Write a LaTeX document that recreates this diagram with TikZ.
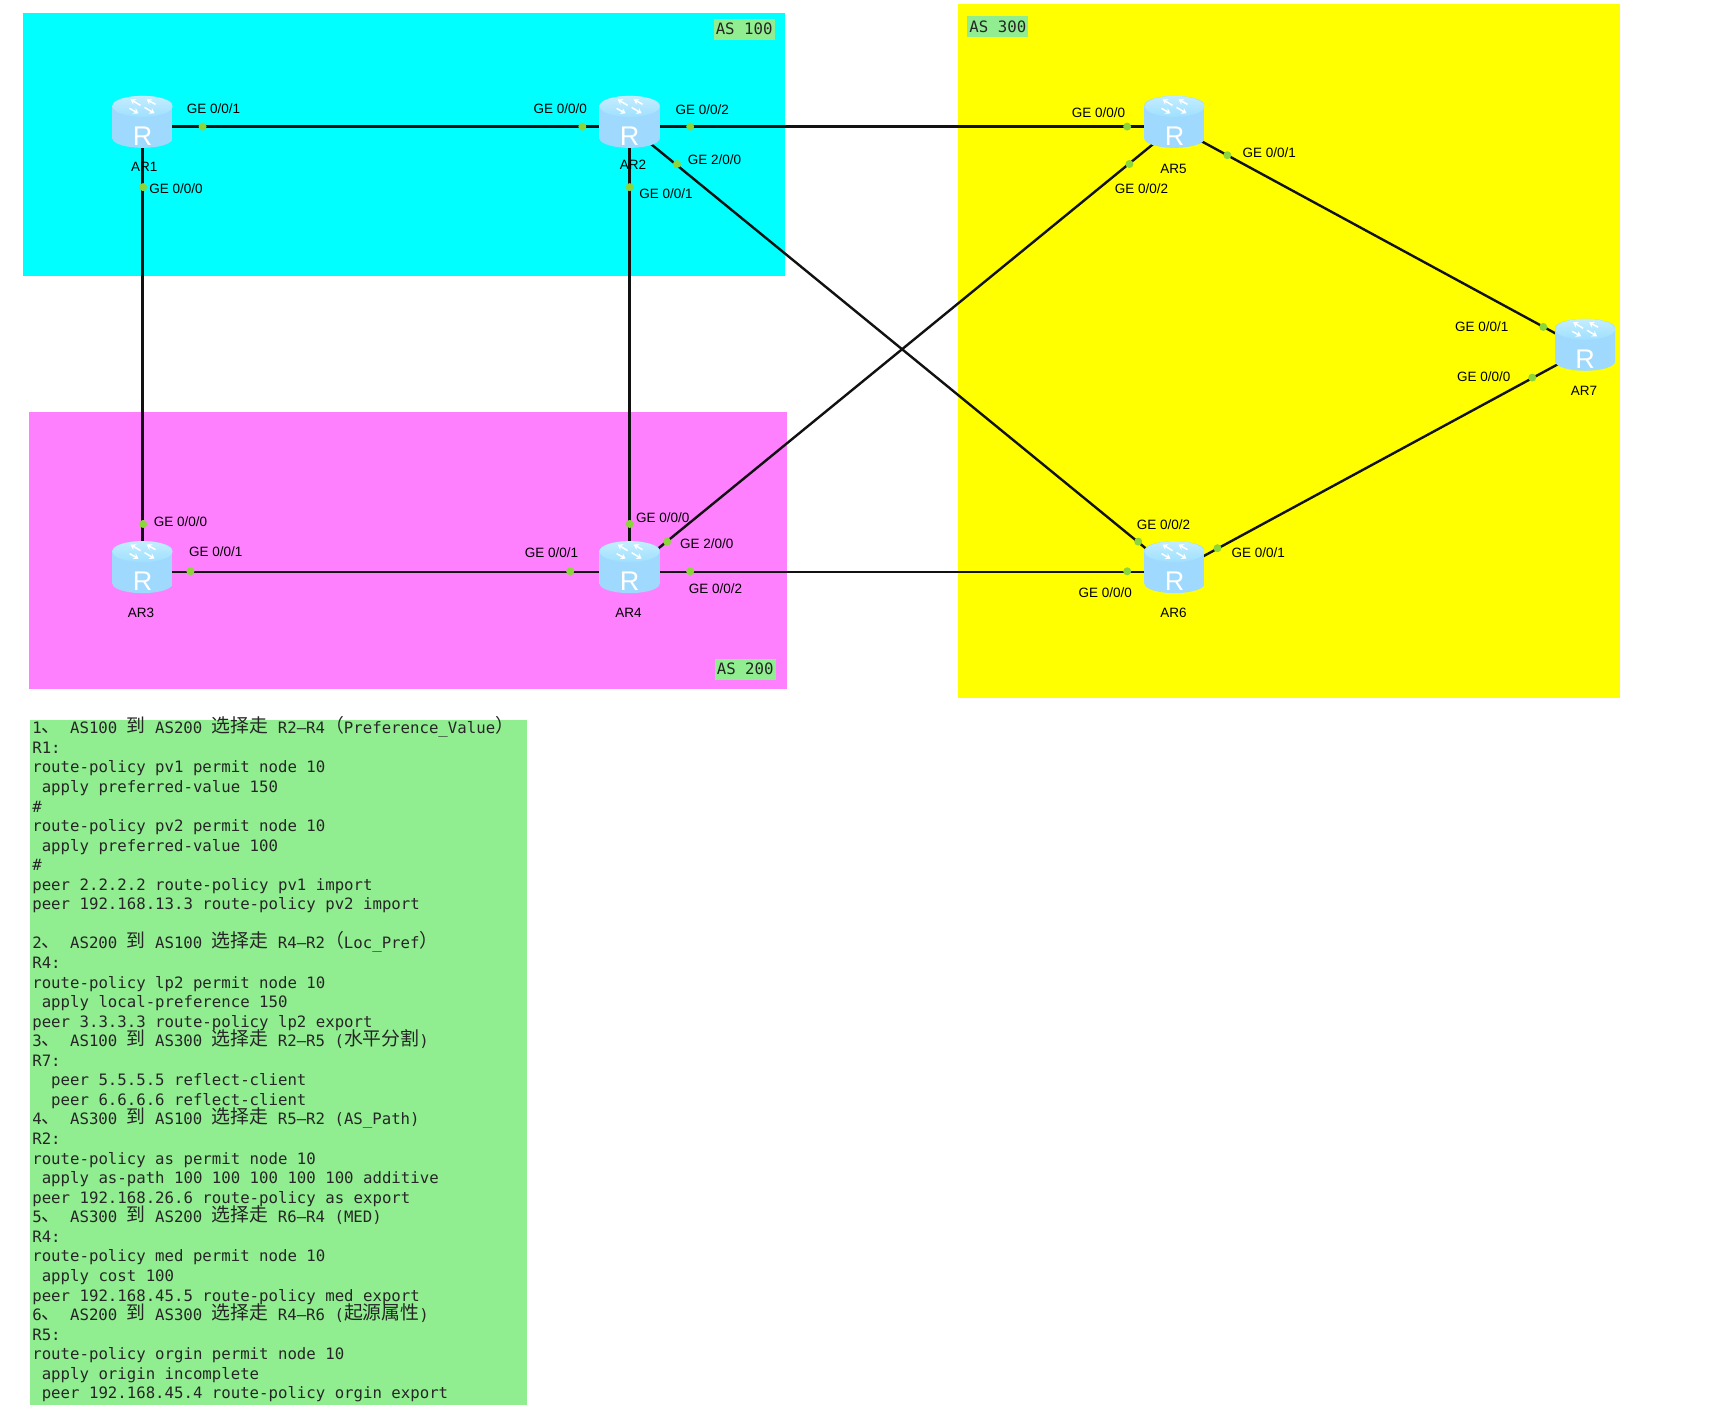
\documentclass[tikz,border=0pt]{standalone}
\usepackage{fontspec}
\setmainfont{Liberation Sans}
\newfontfamily\codefont{DejaVu Sans Mono}
\newfontfamily\cjk{Noto Sans CJK SC}
\usetikzlibrary{shapes.geometric,backgrounds,arrows.meta}
\definecolor{zonecyan}{HTML}{00FFFF}
\definecolor{zonepink}{HTML}{FF80FF}
\definecolor{zoneyellow}{HTML}{FFFF00}
\definecolor{notegreen}{HTML}{90EE90}
\definecolor{portgreen}{HTML}{8CD63C}
\definecolor{linkblack}{HTML}{111111}
\definecolor{routerside}{HTML}{9FD9FD}
\definecolor{routermid}{HTML}{74C4F6}
\definecolor{routerlid}{HTML}{C4EDFF}
\definecolor{routerlidlow}{HTML}{9FE0FF}
\newcommand{\zh}[1]{\raisebox{1.5pt}[0pt][0pt]{\cjk\fontsize{18.86}{19.56}\selectfont #1}}
\newcommand{\routermark}{\raisebox{-19pt}[0pt][0pt]{R}}
\tikzset{
	router/.style={cylinder,shape border rotate=90,shape aspect=0.95,minimum width=60pt,minimum height=52pt,inner sep=0pt,
		text=white,font=\fontsize{27}{27}\selectfont,
		path picture={
			\shade[left color=routerside,middle color=routermid,right color=routerside] (path picture bounding box.south west) rectangle (path picture bounding box.north east);
			\coordinate (routertop) at ([yshift=-10.5pt]path picture bounding box.north);
			\shade[top color=routerlid,bottom color=routerlidlow] (routertop) ellipse [x radius=30pt,y radius=10.5pt];
			\foreach \ax/\ay/\bx/\by in {-2/1/-12/7,2/-1/12/-7,13/2/4/7,-13/-2/-4/-7}
				\draw[white,line width=1.5pt,-{Stealth[length=5pt,width=6.5pt]}] ([xshift=\ax pt,yshift=\ay pt]routertop) -- ([xshift=\bx pt,yshift=\by pt]routertop);
		}},
	link/.style={draw=linkblack,line width=2.4pt},
	port/.style={circle,fill=portgreen,inner sep=0pt,minimum size=8pt},
	iflabel/.style={text=black,font=\fontsize{13.5}{14}\selectfont,inner sep=0pt},
	aslabel/.style={fill=notegreen,text=black!85,font=\codefont\fontsize{15.7}{18}\selectfont,minimum width=61pt,minimum height=21pt,inner sep=0pt},
	notes/.style={anchor=north west,align=left,inner sep=0pt,text=black!85,font=\codefont\fontsize{15.7}{19.56}\selectfont}
}
\begin{document}
\begin{tikzpicture}[x=1.1008pt,y=-1.1008pt]
	\useasboundingbox (0,0) rectangle (1568,1287);
	\foreach \name/\px/\py in {AR1/129.5/115,AR2/572/115,AR3/129.5/519.5,AR4/572/519.5,AR5/1067/115,AR6/1067/519.5,AR7/1440/317.5}
		\node[router] (\name) at (\px,\py) {\routermark};
	\begin{scope}[on background layer]
		\fill[zonecyan] (21,12) rectangle (713,251);
		\fill[zonepink] (26,374) rectangle (715,626);
		\fill[zoneyellow] (870,4) rectangle (1472,634);
		\fill[notegreen] (27,654) rectangle (479,1276);
		\foreach \from/\to in {AR1/AR2,AR1/AR3,AR2/AR4,AR2/AR5,AR2/AR6,AR3/AR4,AR4/AR5,AR4/AR6,AR5/AR7,AR6/AR7}
			\draw[link] (\from.center) -- (\to.center);
	\end{scope}
	\node[aslabel] (as100) at (676,26.5) {AS 100};
	\node[aslabel] (as200) at (677,608) {AS 200};
	\node[aslabel] (as300) at (906.5,24.5) {AS 300};
	\foreach \name/\px/\py in {AR1/131/152,AR2/575/150,AR3/128/557,AR4/571/557,AR5/1066/153,AR6/1066/557,AR7/1439/355}
		\node[iflabel] (\name name) at (\px,\py) {\name};
	\foreach \dx/\dy/\lx/\ly/\txt in {
		184/115/194/99/GE 0\slash 0\slash 1,130/170/160/171/GE 0\slash 0\slash 0,
		529/115/509/99/GE 0\slash 0\slash 0,627/115/638/100/GE 0\slash 0\slash 2,615/149/649/145/GE 2\slash 0\slash 0,572/170/605/176/GE 0\slash 0\slash 1,
		1024/115/998/102/GE 0\slash 0\slash 0,1115/141/1153/139/GE 0\slash 0\slash 1,1026/149/1037/171/GE 0\slash 0\slash 2,
		1402/297/1346/297/GE 0\slash 0\slash 1,1392/343/1348/342/GE 0\slash 0\slash 0,
		130/476/164/474/GE 0\slash 0\slash 0,173/519/196/501/GE 0\slash 0\slash 1,
		518/519/501/502/GE 0\slash 0\slash 1,627/519/650/535/GE 0\slash 0\slash 2,572/476/602/470/GE 0\slash 0\slash 0,606/492/642/494/GE 2\slash 0\slash 0,
		1024/519/1004/538/GE 0\slash 0\slash 0,1106/498/1143/502/GE 0\slash 0\slash 1,1034/492/1057/477/GE 0\slash 0\slash 2}
	{
		\node[port] (port\dx-\dy) at (\dx,\dy) {};
		\node[iflabel] (label\dx-\dy) at (\lx,\ly) {\txt};
	}
	\node[notes] (policy) at (29.2,655.5) {%
		1\zh{、}~AS100 \zh{到} AS200 \zh{选择走} R2–R4\zh{（}Preference\_Value\zh{）}\\
		R1:\\
		route-policy pv1 permit node 10\\
		~apply preferred-value 150\\
		\#\\
		route-policy pv2 permit node 10\\
		~apply preferred-value 100\\
		\#\\
		peer 2.2.2.2 route-policy pv1 import\\
		peer 192.168.13.3 route-policy pv2 import\\
		~\\
		2\zh{、}~AS200 \zh{到} AS100 \zh{选择走} R4–R2\zh{（}Loc\_Pref\zh{）}\\
		R4:\\
		route-policy lp2 permit node 10\\
		~apply local-preference 150\\
		peer 3.3.3.3 route-policy lp2 export\\
		3\zh{、}~AS100 \zh{到} AS300 \zh{选择走} R2–R5 (\zh{水平分割})\\
		R7:\\
		~~peer 5.5.5.5 reflect-client\\
		~~peer 6.6.6.6 reflect-client\\
		4\zh{、}~AS300 \zh{到} AS100 \zh{选择走} R5–R2 (AS\_Path)\\
		R2:\\
		route-policy as permit node 10\\
		~apply as-path 100 100 100 100 100 additive\\
		peer 192.168.26.6 route-policy as export\\
		5\zh{、}~AS300 \zh{到} AS200 \zh{选择走} R6–R4 (MED)\\
		R4:\\
		route-policy med permit node 10\\
		~apply cost 100\\
		peer 192.168.45.5 route-policy med export\\
		6\zh{、}~AS200 \zh{到} AS300 \zh{选择走} R4–R6 (\zh{起源属性})\\
		R5:\\
		route-policy orgin permit node 10\\
		~apply origin incomplete\\
		~peer 192.168.45.4 route-policy orgin export};
\end{tikzpicture}
\end{document}
